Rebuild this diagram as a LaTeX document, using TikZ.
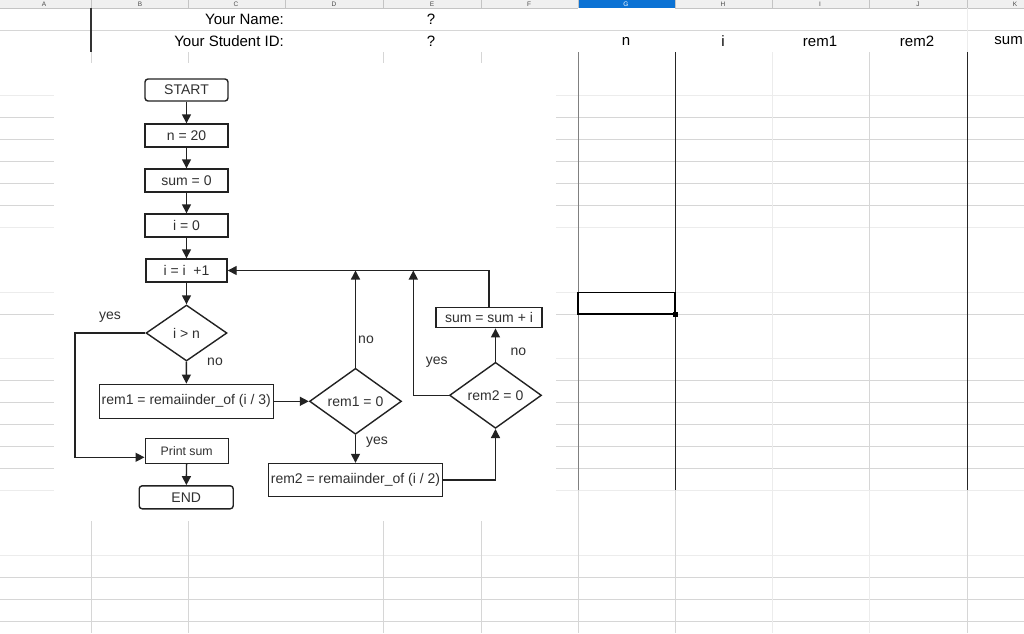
\documentclass[tikz,border=0pt]{standalone}
\usepackage{fontspec}
\setmainfont{Liberation Sans}
\usetikzlibrary{arrows.meta,shapes.geometric}
\definecolor{gl}{HTML}{D6D6D6}
\definecolor{gll}{HTML}{ECECEC}
\definecolor{hdr}{HTML}{F0F0F0}
\definecolor{hdrline}{HTML}{C4C4C4}
\definecolor{selblue}{HTML}{0B72D4}
\definecolor{fcline}{HTML}{222222}
\definecolor{fctext}{HTML}{303030}
\newcommand{\fcfont}{\fontsize{14}{16}\selectfont}
\newcommand{\fcsmall}{\fontsize{12.3}{14}\selectfont}
\newcommand{\ssfont}{\fontsize{15}{18}\selectfont}
\newcommand{\hdfont}{\fontsize{6.5}{7}\selectfont}
\tikzset{
  fc/.style={draw=fcline, line width=1.4pt, inner sep=0pt, font=\fcfont, text=fctext},
  proc/.style={fc, rectangle, minimum width=83pt, minimum height=23pt},
  term/.style={fc, rectangle, rounded corners=3pt, minimum height=23pt},
  dec/.style={fc, diamond, shape aspect=1.4},
  arr/.style={draw=fcline, line width=1.4pt, -{Triangle[length=9pt,width=9pt]}},
  lbl/.style={inner sep=0pt, font=\fcfont, text=fctext},
  cell/.style={inner sep=0pt, font=\ssfont, text=black},
  hd/.style={inner sep=0pt, font=\hdfont, text=black!70, anchor=base},
}
\begin{document}
\begin{tikzpicture}[x=1pt,y=-1pt]
\useasboundingbox (0,0) rectangle (1024,633);
\clip (0,0) rectangle (1024,633);
\fill[white] (0,0) rectangle (1024,633);
% ---------- header bar ----------
\fill[hdr] (0,0) rectangle (1024,8);
\fill[selblue] (578,0) rectangle (675,8);
\draw[hdrline] (0,8) -- (578,8);
\draw[hdrline] (675,8) -- (1024,8);
\foreach \xx in {91,188,285,383,481,578,675,772,869,967}
  \draw[hdrline] (\xx,0) -- (\xx,8);
\foreach \xx/\ll in {44/A,140/B,236/C,334/D,432/E,529/F,723/H,820/I,918/J,1015/K}
  \node[hd] (h\ll) at (\xx,6.6) {\ll};
\node[hd, text=white] (hG) at (626,6.6) {G};
% ---------- rows 1-2 ----------
\draw[gl] (0,30) -- (1024,30);
\draw[gll] (967,8) -- (967,52);
\draw[black!80, line width=1.2pt] (91,8) -- (91,52);
\foreach \xx in {91,188,383,481}
  \draw[gl] (\xx,52) -- (\xx,63);
\node[cell, anchor=east] (nameL) at (284,19) {Your Name:};
\node[cell, anchor=east] (idL) at (284,41) {Your Student ID:};
\node[cell] (nameQ) at (431,19) {?};
\node[cell] (idQ) at (431,41) {?};
\node[cell] (cn) at (626,41) {n};
\node[cell] (ci) at (723,41) {i};
\node[cell] (cr1) at (820,41) {rem1};
\node[cell] (cr2) at (917,41) {rem2};
\node[cell, anchor=east] (csum) at (1023,41) {sum};
% ---------- grid rows ----------
\foreach \yy/\cc in {95/gll,117/gl,139/gl,161/gl,183/gl,205/gl,227/gll,292/gll,314/gl,358/gll,380/gl,402/gl,424/gl,446/gl,468/gl,490/gll}{
  \draw[\cc] (0,\yy) -- (54,\yy);
  \draw[\cc] (556,\yy) -- (1024,\yy);
}
\foreach \yy/\cc in {555/gll,577/gl,599/gl,621/gl}
  \draw[\cc] (0,\yy) -- (1024,\yy);
\foreach \xx in {91,188,383,481}
  \draw[gl] (\xx,521) -- (\xx,633);
\foreach \xx/\cc in {578/gl,675/gl,772/gll,869/gll,967/gl}
  \draw[\cc] (\xx,490) -- (\xx,633);
\draw[black!50, line width=0.9pt] (578,52) -- (578,490);
\draw[black!85, line width=1pt] (675,52) -- (675,490);
\draw[gll, line width=1pt] (772,52) -- (772,490);
\draw[gl, line width=1pt] (869,52) -- (869,490);
\draw[black!85, line width=1pt] (967,52) -- (967,490);
% selected cell
\draw[black, line width=1.6pt] (578,292.5) rectangle (675,314);
\fill[black] (672.5,311.5) rectangle (677.5,316.5);
% ---------- flowchart ----------
\node[term, minimum width=83pt, minimum height=22pt] (start) at (186.5,90) {START};
\node[proc] (n20) at (186.5,135.5) {n = 20};
\node[proc] (sum0) at (186.5,180.5) {sum = 0};
\node[proc] (i0) at (186.5,225.5) {i = 0};
\node[proc, minimum width=81pt] (inc) at (186.5,270.5) {i = i \ +1};
\node[dec, minimum width=81pt, minimum height=56pt] (gt) at (186.5,333) {i > n};
\node[proc, minimum width=174pt, minimum height=34pt] (rem1) at (186.3,401.3) {rem1 = remaiinder\_of (i / 3)};
\node[proc, minimum height=25pt, font=\fcsmall] (print) at (186.7,450.8) {Print sum};
\node[term, minimum width=94pt] (end) at (186.2,497.3) {END};
\node[dec, minimum width=92pt, minimum height=66pt] (d1) at (355.5,401.3) {rem1 = 0};
\node[proc, minimum width=174pt, minimum height=33pt] (rem2) at (355.5,480) {rem2 = remaiinder\_of (i / 2)};
\node[dec, minimum width=92pt, minimum height=66pt] (d2) at (495.5,395.3) {rem2 = 0};
\node[proc, minimum width=106pt, minimum height=20pt] (sumi) at (489,317.7) {sum = sum + i};
\coordinate (yesc) at (75,457.3);
\coordinate (topB) at (413.3,270.5);
% connectors
\draw[arr] (start) -- (n20);
\draw[arr] (n20) -- (sum0);
\draw[arr] (sum0) -- (i0);
\draw[arr] (i0) -- (inc);
\draw[arr] (inc) -- (gt);
\draw[arr] (gt) -- (rem1);
\draw[arr] (gt.west) -| (yesc) -- (print.west |- yesc);
\draw[arr] (print) -- (end);
\draw[arr] (rem1.east) -- (d1.west);
\draw[arr] (d1.south) -- (rem2.north);
\draw[arr] (d1.north) -- (d1.north |- inc.east);
\draw[arr] (rem2.east) -| (d2.south);
\draw[arr] (d2.north) -- (d2.north |- sumi.south);
\draw[arr] (d2.west) -| (topB);
\draw[arr] (sumi.north) |- (inc.east);
% labels
\node[lbl] (lyes1) at (110,317) {yes};
\node[lbl] (lno1) at (215,362) {no};
\node[lbl] (lno2) at (366,340) {no};
\node[lbl] (lyes2) at (377,442) {yes};
\node[lbl] (lyes3) at (436.7,362) {yes};
\node[lbl] (lno3) at (518.3,351.7) {no};
\end{tikzpicture}
\end{document}
